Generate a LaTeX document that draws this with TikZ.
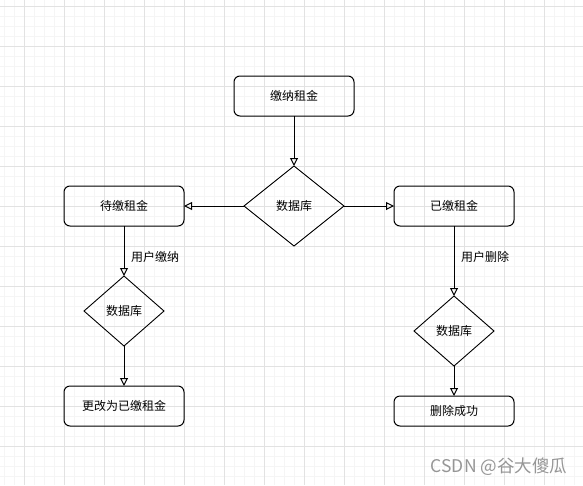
\documentclass[tikz,border=0pt]{standalone}
\usepackage{fontspec}
\setmainfont{Noto Sans CJK SC}
\usetikzlibrary{shapes.geometric,arrows.meta}

\definecolor{majorgray}{RGB}{226,226,226}
\definecolor{minorgray}{RGB}{245,245,245}
\definecolor{markgray}{RGB}{150,150,150}

\begin{document}
\begin{tikzpicture}[x=1pt, y=-1pt,
  every node/.style={font=\fontsize{12}{14}\selectfont, inner sep=0pt, outer sep=0pt},
  box/.style={draw, line width=1pt, rounded corners=6pt, minimum width=120pt, minimum height=40pt},
  decision/.style={draw, diamond, line width=0.9pt},
  flow/.style={line width=1pt, -{Triangle[open, length=8pt, width=8pt]}},
  lbl/.style={anchor=west},
  minorgrid/.style={draw=minorgray, line width=0.8pt},
  majorgrid/.style={draw=majorgray, line width=0.8pt}]
\useasboundingbox (0,0) rectangle (583,485);
\fill[white] (0,0) rectangle (583,485);

% background grid
\foreach \x in {4,14,...,574} \draw[minorgrid] (\x,0) -- (\x,485);
\foreach \y in {6,16,...,476} \draw[minorgrid] (0,\y) -- (583,\y);
\foreach \x in {24,64,...,584} \draw[majorgrid] (\x,0) -- (\x,485);
\foreach \y in {6,46,...,446} \draw[majorgrid] (0,\y) -- (583,\y);

% top
\node[box] (pay) at (294,96) {缴纳租金};
\node[decision, minimum width=100pt, minimum height=80pt] (db) at (294,206) {数据库};

% left branch
\node[box] (unpaid) at (124,206) {待缴租金};
\node[decision, minimum width=80pt, minimum height=70pt] (dbl) at (124,311) {数据库};
\node[box] (changed) at (124,406) {更改为已缴租金};

% right branch
\node[box] (paid) at (454,206) {已缴租金};
\node[decision, minimum width=80pt, minimum height=70pt] (dbr) at (454,331) {数据库};
\node[box, minimum height=30pt] (deleted) at (454,411) {删除成功};

\node[text=markgray, font=\fontsize{17.5}{19}\selectfont] (csdn) at (499,467) {CSDN @谷大傻瓜};

\draw[flow] (pay) -- (db);
\draw[flow] (db) -- (unpaid);
\draw[flow] (db) -- (paid);
\draw[flow] (unpaid) -- node[lbl, pos=0.62, right=7pt] (paylbl) {用户缴纳} (dbl);
\draw[flow] (dbl) -- (changed);
\draw[flow] (paid) -- node[lbl, pos=0.44, right=7pt] (dellbl) {用户删除} (dbr);
\draw[flow] (dbr) -- (deleted);
\end{tikzpicture}
\end{document}
